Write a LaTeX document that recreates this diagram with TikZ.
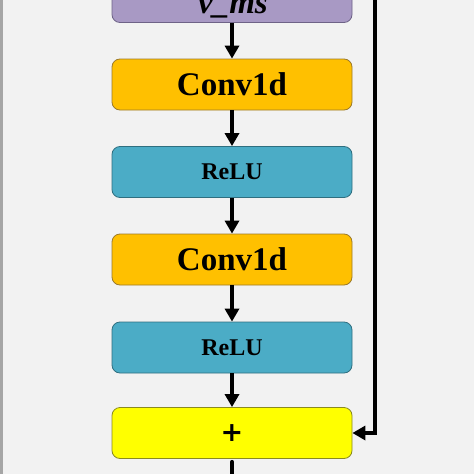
\documentclass[tikz,border=0pt]{standalone}
\usepackage{fontspec}
\setmainfont{Liberation Serif}
\newfontfamily\plusfont{DejaVu Sans}
\usetikzlibrary{arrows.meta}
\definecolor{bg}{HTML}{F2F2F2}
\definecolor{edgegray}{HTML}{A6A6A6}
\definecolor{purplefill}{HTML}{A899C4}
\definecolor{purpleedge}{HTML}{6E6387}
\definecolor{convfill}{HTML}{FFC000}
\definecolor{convedge}{HTML}{9C7A2A}
\definecolor{relufill}{HTML}{4BACC6}
\definecolor{reluedge}{HTML}{2F6F80}
\definecolor{addfill}{HTML}{FFFF00}
\definecolor{addedge}{HTML}{8A8A20}
\begin{document}
\begin{tikzpicture}[x=1pt,y=-1pt,
  blockbox/.style={rounded corners=8pt, minimum width=240pt, minimum height=51pt, line width=0.8pt, inner sep=0pt},
  conv/.style={blockbox, fill=convfill, draw=convedge, font=\fontsize{33}{36}\selectfont\bfseries},
  relu/.style={blockbox, fill=relufill, draw=reluedge, font=\fontsize{24}{28}\selectfont\bfseries},
  addbox/.style={blockbox, fill=addfill, draw=addedge, font=\plusfont\fontsize{27}{30}\selectfont\bfseries},
  inbox/.style={blockbox, fill=purplefill, draw=purpleedge},
  intext/.style={font=\fontsize{33}{36}\selectfont\bfseries\itshape, inner sep=0pt, anchor=base},
  flow/.style={line width=4pt, -{Triangle[width=14pt,length=13pt]}}
]
\useasboundingbox (0,0) rectangle (474,474);
\fill[bg] (0,0) rectangle (474,474);
\fill[edgegray] (0,0) rectangle (2.5,474);
\begin{scope}
\clip (0,0) rectangle (474,474);
\node[inbox] (in) at (232,-3) {};
\node[intext] (inlabel) at (233,13) {v\_ms};
\node[conv] (c1) at (232,84.5) {Conv1d};
\node[relu] (r1) at (232,172) {ReLU};
\node[conv] (c2) at (232,259.5) {Conv1d};
\node[relu] (r2) at (232,347.5) {ReLU};
\node[addbox] (add) at (232,433) {+};
\coordinate (top) at (374.5,-10);
\coordinate (corner) at (374.5,433);
\coordinate (bottom) at (232,480);
\draw[flow] (in) -- (c1);
\draw[flow] (c1) -- (r1);
\draw[flow] (r1) -- (c2);
\draw[flow] (c2) -- (r2);
\draw[flow] (r2) -- (add);
\draw[flow] (top) -- (corner) -- (add.east);
\draw[line width=4pt, line cap=round] ([yshift=-3pt]add.south) -- (bottom);
\end{scope}
\end{tikzpicture}
\end{document}
